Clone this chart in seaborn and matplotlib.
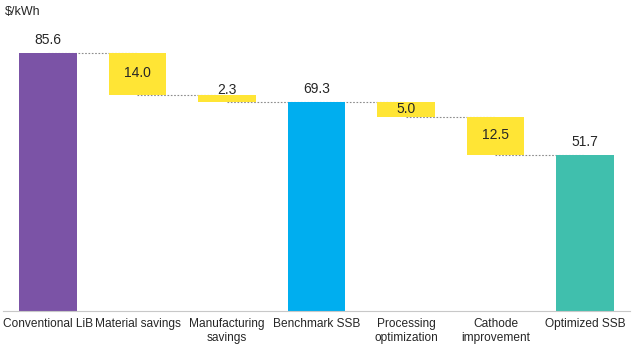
import numpy as np
import pandas as pd
import matplotlib
matplotlib.use("Agg")
import matplotlib.pyplot as plt
import seaborn as sns

categories = ["Conventional LiB", "Material savings", "Manufacturing\nsavings",
              "Benchmark SSB", "Processing\noptimization", "Cathode\nimprovement",
              "Optimized SSB"]
values = [85.6, 14.0, 2.3, 69.3, 5.0, 12.5, 51.7]
is_total = [True, False, False, True, False, False, True]
colors = ["#7B53A6", "#FFE535", "#FFE535", "#00AEEF", "#FFE535", "#FFE535", "#40BFAD"]

# waterfall: totals sit on 0, savings hang down from previous level
tops, bottoms = [], []
level = 0
for v, t in zip(values, is_total):
    if t:
        level = v
        bottoms.append(0)
        tops.append(v)
    else:
        bottoms.append(level - v)
        tops.append(level)
        level = level - v
heights = [t - b for t, b in zip(tops, bottoms)]

df = pd.DataFrame({"cat": categories, "height": heights, "bottom": bottoms})

sns.set_style("white")
plt.rcParams["font.family"] = ["Liberation Sans", "DejaVu Sans"]

fig = plt.figure(figsize=(6.4, 3.57), dpi=100)
ax = fig.add_axes([0.005, 0.129, 0.979, 0.759])
sns.barplot(data=df, x="cat", y="height", bottom=df["bottom"].values,
            width=0.64, color="#FFE535", ax=ax, errorbar=None, linewidth=0)
for p, c in zip(ax.patches, colors):
    p.set_facecolor(c)

# dotted connectors from bar centre to next bar centre
for i in range(len(categories) - 1):
    lvl = bottoms[i] if not is_total[i] else tops[i]
    ax.plot([i, i + 1], [lvl, lvl], color="#8c8c8c", lw=0.8, ls=(0, (1.5, 1.5)), zorder=0)

# labels
for i, (v, t) in enumerate(zip(values, is_total)):
    if t:
        ax.text(i, tops[i] + 4.5, f"{v:.1f}", ha="center", va="center", fontsize=10)
    elif heights[i] >= 4:
        ax.text(i, (tops[i] + bottoms[i]) / 2 + 0.3, f"{v:.1f}", ha="center",
                va="center", fontsize=10)
    else:
        ax.text(i, tops[i] - 0.6, f"{v:.1f}", ha="center", va="bottom", fontsize=10)

ax.set_ylim(0, 90)
ax.set_xlim(-0.5, len(categories) - 0.5)
ax.set_yticks([])
ax.set_xlabel("")
ax.set_ylabel("")
ax.tick_params(axis="x", length=0, labelsize=8.6, pad=5)
ax.set_xticks(np.arange(0.5, len(categories) - 1, 1), minor=True)
ax.tick_params(axis="x", which="minor", direction="in", length=6, width=0.6, color="#e0e0e0")
for lab in ax.get_xticklabels():
    lab.set_linespacing(1.2)
for s in ["top", "right", "left"]:
    ax.spines[s].set_visible(False)
ax.spines["bottom"].set_color("#c8c8c8")
ax.spines["bottom"].set_linewidth(0.8)

fig.text(0.008, 0.965, "$/kWh", fontsize=9, ha="left", va="center")

fig.savefig("out.png", dpi=100)
